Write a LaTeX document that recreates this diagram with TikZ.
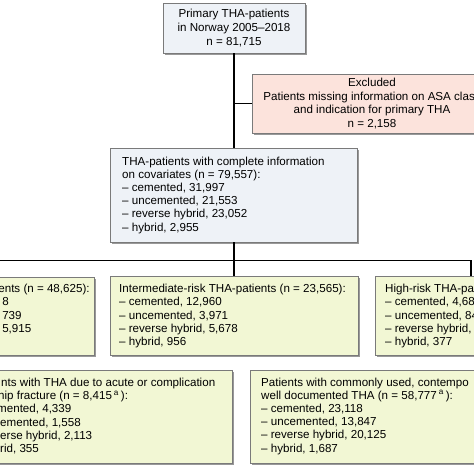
\documentclass[tikz,border=0pt]{standalone}
\usepackage{fontspec}
\setmainfont{Liberation Sans}
\usetikzlibrary{shadows}
\definecolor{bluefill}{HTML}{EEF2F7}
\definecolor{pinkfill}{HTML}{FCE3DC}
\definecolor{greenfill}{HTML}{F2F7D4}
\definecolor{boxline}{HTML}{7A7A7A}
\begin{document}
\begin{tikzpicture}[x=1pt,y=-1pt,
  box/.style={draw=boxline, line width=0.8pt, inner sep=0pt,
    drop shadow={shadow xshift=2pt, shadow yshift=-2pt, fill=black!40, opacity=1}},
  bluebox/.style={box, fill=bluefill},
  pinkbox/.style={box, fill=pinkfill},
  greenbox/.style={box, fill=greenfill},
  ctext/.style={align=center, font=\fontsize{11.6}{13.6}\selectfont},
  txt/.style={inner sep=0pt, align=left, anchor=west, font=\fontsize{11.6}{13.2}\selectfont},
  conn/.style={line width=1.6pt, black}
]
\useasboundingbox (0,0) rectangle (474,474);
\clip (0,0) rectangle (474,474);
\fill[white] (0,0) rectangle (474,474);

% boxes
\node[bluebox, ctext, minimum width=142pt, minimum height=50pt] (tb) at (234,28)
  {Primary THA-patients\\in Norway 2005–2018\\n = 81,715};
\node[pinkbox, ctext, minimum width=240pt, minimum height=59pt] (ex) at (372,103.5)
  {Excluded\\Patients missing information on ASA class\\and indication for primary THA\\n = 2,158};
\node[bluebox, minimum width=247pt, minimum height=94pt] (mb) at (233.5,195) {};
\node[greenbox, minimum width=192pt, minimum height=78pt] (lb) at (-2,316) {};
\node[greenbox, minimum width=248pt, minimum height=79pt] (ib) at (234,315.5) {};
\node[greenbox, minimum width=192pt, minimum height=79pt] (hb) at (471,315.5) {};
\node[greenbox, minimum width=268pt, minimum height=93pt] (bl) at (98,416.5) {};
\node[greenbox, minimum width=268pt, minimum height=93pt] (br) at (384,416.5) {};

% texts
\node[txt] (mbt) at (122,195) {THA-patients with complete information\\on covariates (n = 79,557):\\– cemented, 31,997\\– uncemented, 21,553\\– reverse hybrid, 23,052\\– hybrid, 2,955};
\node[txt] (lbt) at (-94,316) {\phantom{Low-risk THA-pati}ents (n = 48,625):\\\phantom{– cemented, 14,34}8\\\phantom{– uncemented, 16,}739\\\phantom{– reverse hybrid, 1}5,915\\\phantom{– hybrid,}};
\node[txt] (ibt) at (119,316) {Intermediate-risk THA-patients (n = 23,565):\\– cemented, 12,960\\– uncemented, 3,971\\– reverse hybrid, 5,678\\– hybrid, 956};
\node[txt] (hbt) at (385,316) {High-risk THA-pa\\– cemented, 4,68\\– uncemented, 84\\– reverse hybrid,\\– hybrid, 377};
\node[txt] (blt) at (0,416) {\hspace*{1pt}nts with THA due to acute or complication\\\hspace*{-2pt}hip fracture (n = 8,415\,\textsuperscript{a}\,):\\\hspace*{-3pt}mented, 4,339\\emented, 1,558\\erse hybrid, 2,113\\rid, 355};
\node[txt] (brt) at (261,416) {Patients with commonly used, contempo\\well documented THA (n = 58,777\,\textsuperscript{a}\,):\\– cemented, 23,118\\– uncemented, 13,847\\– reverse hybrid, 20,125\\– hybrid, 1,687};

% connectors
\draw[conn] (tb.south) -- (tb.south |- mb.north);
\draw[conn] (tb.south |- ex.west) -- (ex.west);
\draw[conn] (ib.north |- mb.south) -- (ib.north);
\draw[conn] (lb.north) -- ++(0,-16) -| (hb.north);
\end{tikzpicture}
\end{document}
